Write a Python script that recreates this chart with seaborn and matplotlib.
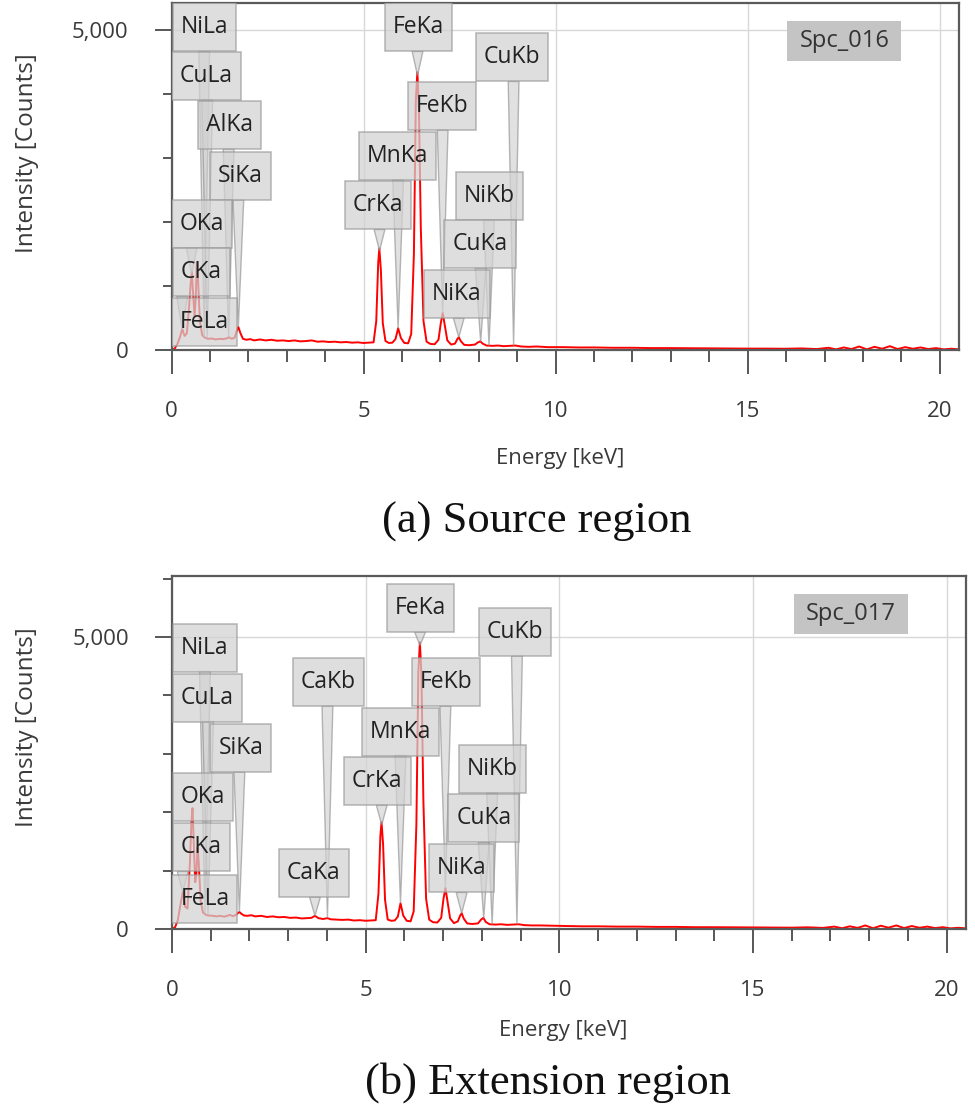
import numpy as np
import pandas as pd
import matplotlib
matplotlib.use("Agg")
import matplotlib.pyplot as plt
import seaborn as sns
from matplotlib.patches import Polygon, Rectangle

# ---------------- data ----------------
energy_a = [0.00, 0.08, 0.15, 0.22, 0.28, 0.34, 0.40, 0.46, 0.50, 0.53,
            0.56, 0.60, 0.63, 0.66, 0.69, 0.74, 0.80, 0.88, 0.95, 1.05,
            1.15, 1.25, 1.35, 1.45, 1.50, 1.56, 1.64, 1.70, 1.74, 1.79,
            1.86, 1.95, 2.05, 2.15, 2.30, 2.45, 2.60, 2.75, 2.90, 3.05,
            3.20, 3.35, 3.50, 3.65, 3.80, 3.95, 4.10, 4.25, 4.40, 4.55,
            4.70, 4.85, 5.00, 5.15, 5.26, 5.33, 5.38, 5.41, 5.45, 5.50,
            5.57, 5.66, 5.75, 5.83, 5.90, 5.97, 6.06, 6.16, 6.24, 6.31,
            6.36, 6.40, 6.44, 6.49, 6.56, 6.64, 6.74, 6.85, 6.95, 7.01,
            7.06, 7.11, 7.18, 7.28, 7.38, 7.44, 7.48, 7.53, 7.62, 7.75,
            7.90, 7.98, 8.04, 8.10, 8.20, 8.35, 8.50, 8.65, 8.80, 8.95,
            9.10, 9.30, 9.50, 9.80, 10.2, 10.6, 11.0, 11.5, 12.0, 12.5,
            13.0, 13.5, 14.0, 14.5, 15.0, 15.5, 16.0, 16.4, 16.8, 17.1,
            17.3, 17.5, 17.7, 17.9, 18.1, 18.3, 18.5, 18.7, 18.9, 19.1,
            19.3, 19.5, 19.7, 19.9, 20.1, 20.3, 20.5]
counts_a = [0, 20, 90, 200, 330, 220, 260, 700, 1050, 1220,
            900, 520, 800, 1370, 1100, 450, 230, 190, 175, 180,
            165, 175, 170, 185, 200, 175, 190, 300, 360, 270,
            175, 160, 170, 150, 165, 150, 160, 145, 150, 140,
            150, 135, 140, 150, 130, 135, 125, 130, 120, 125,
            115, 120, 110, 115, 120, 450, 1350, 1590, 1250, 420,
            140, 110, 115, 170, 340, 190, 110, 105, 250, 1500,
            3900, 4340, 3800, 1900, 450, 130, 95, 90, 160, 420,
            580, 400, 150, 85, 100, 170, 200, 140, 80, 75,
            85, 120, 135, 100, 70, 65, 70, 60, 65, 70,
            55, 50, 55, 45, 45, 40, 40, 35, 35, 30,
            30, 28, 25, 25, 22, 22, 20, 25, 15, 35,
            10, 40, 15, 55, 10, 50, 20, 60, 15, 45,
            20, 40, 15, 30, 10, 20, 10]

energy_b = [0.00, 0.08, 0.15, 0.22, 0.28, 0.34, 0.40, 0.46, 0.50, 0.53,
            0.56, 0.60, 0.63, 0.66, 0.69, 0.74, 0.80, 0.88, 0.95, 1.05,
            1.15, 1.25, 1.35, 1.45, 1.50, 1.56, 1.64, 1.70, 1.74, 1.79,
            1.86, 1.95, 2.05, 2.15, 2.30, 2.45, 2.60, 2.75, 2.90, 3.05,
            3.20, 3.35, 3.50, 3.60, 3.69, 3.78, 3.90, 4.01, 4.10, 4.25,
            4.40, 4.55, 4.70, 4.85, 5.00, 5.15, 5.26, 5.33, 5.38, 5.41,
            5.45, 5.50, 5.57, 5.66, 5.75, 5.83, 5.90, 5.97, 6.06, 6.16,
            6.24, 6.31, 6.36, 6.40, 6.44, 6.49, 6.56, 6.64, 6.74, 6.85,
            6.95, 7.01, 7.06, 7.11, 7.18, 7.28, 7.38, 7.44, 7.48, 7.53,
            7.62, 7.75, 7.90, 7.98, 8.04, 8.10, 8.20, 8.35, 8.50, 8.65,
            8.80, 8.95, 9.10, 9.30, 9.50, 9.80, 10.2, 10.6, 11.0, 11.5,
            12.0, 12.5, 13.0, 13.5, 14.0, 14.5, 15.0, 15.5, 16.0, 16.4,
            16.8, 17.1, 17.3, 17.5, 17.7, 17.9, 18.1, 18.3, 18.5, 18.7,
            18.9, 19.1, 19.3, 19.5, 19.7, 19.9, 20.1, 20.3, 20.5]
counts_b = [0, 30, 150, 420, 640, 380, 350, 1100, 1800, 2070,
            1500, 800, 950, 1400, 1150, 480, 280, 240, 230, 225,
            215, 225, 210, 230, 240, 220, 235, 270, 290, 260,
            230, 225, 235, 215, 225, 205, 215, 200, 205, 190,
            195, 180, 185, 190, 225, 185, 170, 185, 165, 160,
            155, 160, 145, 150, 140, 145, 150, 600, 1600, 1830,
            1450, 500, 160, 140, 145, 210, 440, 230, 140, 130,
            300, 1800, 4400, 4910, 4350, 2200, 520, 160, 115, 110,
            190, 520, 700, 480, 180, 100, 130, 230, 270, 180,
            95, 85, 95, 160, 190, 120, 80, 75, 80, 70,
            75, 80, 65, 60, 60, 55, 50, 45, 45, 40,
            40, 35, 35, 30, 30, 28, 25, 25, 22, 28,
            18, 40, 12, 45, 18, 60, 12, 55, 22, 60,
            15, 50, 20, 40, 15, 30, 10, 20, 10]

# element lines (keV)
lines_a = ["NiLa", "CuLa", "AlKa", "SiKa", "OKa", "CKa", "FeLa",
           "CrKa", "MnKa", "FeKa", "FeKb", "CuKb", "NiKb", "CuKa", "NiKa"]
line_energy_a = [0.851, 0.930, 1.487, 1.740, 0.525, 0.277, 0.705,
                 5.415, 5.899, 6.404, 7.058, 8.905, 8.265, 8.048, 7.478]
lines_b = ["NiLa", "CuLa", "SiKa", "OKa", "CKa", "FeLa", "CaKa", "CaKb",
           "MnKa", "CrKa", "FeKa", "FeKb", "CuKb", "NiKb", "CuKa", "NiKa"]
line_energy_b = [0.851, 0.930, 1.740, 0.525, 0.277, 0.705, 3.691, 4.013,
                 5.899, 5.415, 6.404, 7.058, 8.905, 8.265, 8.048, 7.478]

spectrum_names = ["Spc_016", "Spc_017"]
captions = ["(a) Source region", "(b) Extension region"]
ytick_values = [0, 5000]
ytick_labels = ["0", "5,000"]
xtick_values = [0, 5, 10, 15, 20]

# ---------------- layout (label box centres, keV / counts) ----------------
box_a = [(0.86, 5039), (0.91, 4281), (1.51, 3516), (1.80, 2719), (0.79, 1969),
         (0.77, 1211), (0.86, 430), (5.38, 2258), (5.89, 3031), (6.42, 5039),
         (7.04, 3813), (8.87, 4570), (8.27, 2406), (8.03, 1656), (7.43, 875)]
box_b = [(0.85, 4819), (0.92, 3963), (1.78, 3099), (0.80, 2251), (0.75, 1395),
         (0.85, 514), (3.66, 959), (4.03, 4229), (5.90, 3381), (5.30, 2534),
         (6.41, 5496), (7.07, 4229), (8.85, 5085), (8.27, 2739), (8.05, 1892),
         (7.47, 1036)]
spc_rect = [(16.03, 4516, 2.97, 624), (16.05, 5050, 2.94, 685)]

sns.set_theme(style="ticks")
plt.rcParams['font.family'] = ['Open Sans', 'DejaVu Sans']

fig = plt.figure(figsize=(9.75, 11.08), dpi=100)
ax1 = fig.add_axes([0.1759, 0.6841, 0.8077, 0.3132])
ax2 = fig.add_axes([0.1764, 0.1616, 0.8144, 0.3186])

panels = [
    dict(ax=ax1, e=energy_a, c=counts_a, ymax=5420, lines=lines_a, le=line_energy_a,
         boxes=box_a, spc=spectrum_names[0], rect=spc_rect[0],
         yminor=[1000, 2000, 3000, 4000], ylab=(-0.1835, 0.568), xlab=(0.493, -0.312)),
    dict(ax=ax2, e=energy_b, c=counts_b, ymax=6045, lines=lines_b, le=line_energy_b,
         boxes=box_b, spc=spectrum_names[1], rect=spc_rect[1],
         yminor=[1000, 2000, 3000, 4000, 6000], ylab=(-0.1826, 0.572), xlab=(0.493, -0.288)),
]

TXT = "#3a3a3a"
label_texts = []
for p in panels:
    ax = p["ax"]
    df = pd.DataFrame({"Energy [keV]": p["e"], "Intensity [Counts]": p["c"]})
    sns.lineplot(data=df, x="Energy [keV]", y="Intensity [Counts]", ax=ax,
                 color="#ff0000", lw=1.4, estimator=None, sort=False, zorder=2)
    ax.set_xlim(0, 20.5)
    ax.set_ylim(0, p["ymax"])
    ax.set_xticks(xtick_values)
    ax.set_xticklabels([str(v) for v in xtick_values])
    ax.set_xticks(np.arange(1, 21, 1), minor=True)
    ax.set_yticks(ytick_values)
    ax.set_yticklabels(ytick_labels)
    ax.set_yticks(p["yminor"], minor=True)
    ax.tick_params(axis="x", which="major", length=17, width=1.3, color="#4a4a4a",
                   labelsize=16, labelcolor=TXT, pad=20, direction="out")
    ax.tick_params(axis="x", which="minor", length=8.5, width=1.3, color="#4a4a4a",
                   direction="out")
    ax.tick_params(axis="y", which="major", length=12, width=1.3, color="#4a4a4a",
                   labelsize=16, labelcolor=TXT, pad=19, direction="out")
    ax.tick_params(axis="y", which="minor", length=6.5, width=1.3, color="#4a4a4a",
                   direction="out")
    ax.grid(True, which="major", color="#d8d8d8", lw=1.0)
    ax.set_axisbelow(True)
    for s in ax.spines.values():
        s.set_color("#5a5a5a")
        s.set_linewidth(1.6)
        s.set_visible(True)
    ax.set_xlabel("Energy [keV]", fontsize=16, color=TXT)
    ax.set_ylabel("Intensity [Counts]", fontsize=17.5, color=TXT)
    ax.xaxis.set_label_coords(*p["xlab"])
    ax.xaxis.label.set_va("center")
    ax.yaxis.set_label_coords(*p["ylab"])
    ax.yaxis.label.set_va("center")

    # spectrum id box
    rx, ry, rw, rh = p["rect"]
    ax.add_patch(Rectangle((rx, ry), rw, rh, fc="#c4c4c4", ec="none", zorder=5))
    ax.text(rx + rw / 2, ry + rh / 2, p["spc"], ha="center", va="center",
            fontsize=17, color="#333333", zorder=6)

    texts = []
    for name, (bx, by) in zip(p["lines"], p["boxes"]):
        t = ax.text(bx, by, name, ha="center", va="center", fontsize=16.5,
                    color="#222222", zorder=7)
        texts.append(t)
    label_texts.append(texts)

fig.canvas.draw()
renderer = fig.canvas.get_renderer()

for p, texts in zip(panels, label_texts):
    ax = p["ax"]
    inv = ax.transData.inverted()
    e = np.array(p["e"], float)
    c = np.array(p["c"], float)
    for t, le, (bx, by) in zip(texts, p["le"], p["boxes"]):
        bb = t.get_window_extent(renderer)
        cx, cy = ax.transData.transform((bx, by))
        wpx = bb.width + 16
        hpx = 48
        (x0, y0) = inv.transform((cx - wpx / 2, cy - hpx / 2))
        (x1, y1) = inv.transform((cx + wpx / 2, cy + hpx / 2))
        ax.add_patch(Rectangle((x0, y0), x1 - x0, y1 - y0, fc="#d2d2d2",
                               ec="#9a9a9a", lw=1.1, alpha=0.72, zorder=5))
        apex = np.interp(le, e, c)
        if apex < y0:
            hw = 0.14
            ax.add_patch(Polygon([(le - hw, y0), (le + hw, y0), (le, apex)],
                                 closed=True, fc="#cdcdcd", ec="#8a8a8a",
                                 lw=1.0, alpha=0.6, zorder=4))

fig.text(0.55, 0.529, captions[0], ha="center", va="center", fontsize=32,
         family=["Liberation Serif", "DejaVu Serif"], color="#111111")
fig.text(0.562, 0.0226, captions[1], ha="center", va="center", fontsize=32,
         family=["Liberation Serif", "DejaVu Serif"], color="#111111")

fig.savefig("out.png", dpi=100)
